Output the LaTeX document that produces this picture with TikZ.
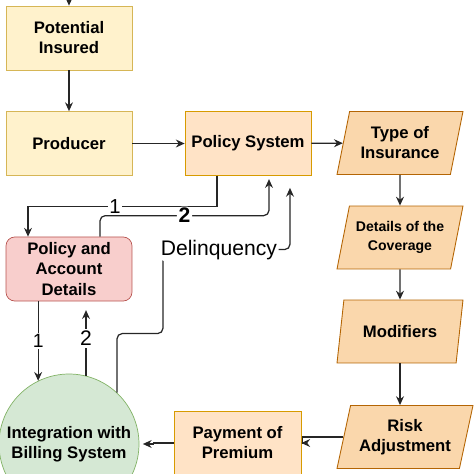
\documentclass[tikz,border=0pt]{standalone}
\usepackage{fontspec}
\setmainfont{Liberation Sans}
\usetikzlibrary{shapes.geometric,arrows.meta}

\definecolor{ylwfill}{HTML}{FFF2CC}
\definecolor{ylwline}{HTML}{D6B656}
\definecolor{orgfill}{HTML}{FFE3C6}
\definecolor{orgline}{HTML}{D79B00}
\definecolor{parafill}{HTML}{FAD7AC}
\definecolor{paraline}{HTML}{B46504}
\definecolor{redfill}{HTML}{F8CECC}
\definecolor{redline}{HTML}{B85450}
\definecolor{grnfill}{HTML}{D5E8D4}
\definecolor{grnline}{HTML}{82B366}

\begin{document}
\begin{tikzpicture}[x=0.02cm, y=-0.02cm,
    >={Stealth[length=5pt,width=4.5pt]},
    conn/.style={draw=black!85, line width=0.7pt, ->},
    boxtxt/.style={font=\fontsize{9.5}{11.4}\selectfont\bfseries, align=center},
    ybox/.style={boxtxt, draw=ylwline, fill=ylwfill, minimum width=2.52cm, minimum height=1.28cm},
    obox/.style={boxtxt, draw=orgline, fill=orgfill, minimum width=2.52cm, minimum height=1.27cm},
    para/.style={boxtxt, trapezium, trapezium left angle=74, trapezium right angle=106,
        trapezium stretches body, draw=paraline, fill=parafill, line width=0.5pt,
        minimum width=2.52cm, minimum height=1.26cm, inner xsep=0pt},
    lbl/.style={fill=white, inner sep=1pt}]
    \useasboundingbox (0,0) rectangle (474,474);

    % left column
    \node [ybox] (pot) at (69,38) {Potential\\Insured};
    \node [ybox] (prod) at (69,143.5) {Producer};
    \node [boxtxt, draw=redline, fill=redfill, rounded corners=5pt, minimum width=2.52cm, minimum height=1.24cm] (pad) at (69,269) {Policy and\\Account\\Details};
    \node [boxtxt, circle, draw=grnline, fill=grnfill, minimum size=2.8cm, inner sep=0pt] (integ) at (69,444) {Integration with\\Billing System};

    % middle
    \node [obox] (psys) at (248,143.5) {Policy System};
    \node [obox, minimum width=2.54cm] (pay) at (237.5,443) {Payment of\\Premium};

    % right column
    \node [para] (type) at (400,143) {Type of\\Insurance};
    \node [para, font=\fontsize{8}{10.5}\selectfont\bfseries] (cov) at (400,237.5) {Details of the\\Coverage};
    \node [para] (mod) at (400,331.5) {Modifiers};
    \node [para, minimum width=2.72cm] (risk) at (405,437) {Risk\\Adjustment};

    \coordinate (entry) at (69,-2);
    \draw [conn] (entry) -- (pot);
    \draw [conn] (pot) -- (prod);
    \draw [conn] (prod) -- (psys);
    \draw [conn] (psys) -- (type);
    \draw [conn] (type.south -| cov) -- (cov);
    \draw [conn] (cov.south -| mod) -- (mod);
    \draw [conn] (mod.south -| 400,0) -- (400,0 |- risk.north);
    \draw [conn] (risk.west) -- ++(-41,0) |- (pay.east);
    \draw [conn] (pay.west) -- ++(-20,0) |- ([xshift=2pt]integ.east);

    % loops round the policy system
    \draw [conn] ([xshift=-0.62cm]psys.south) -- ++(0,31) -| ([xshift=-0.82cm]pad.north)
        node [lbl, pos=0.27, font=\fontsize{11.5}{13}\selectfont] {1};
    \draw [conn, rounded corners=3pt, shorten >=2pt] ([xshift=0.62cm]pad.north) -- ++(0,-21) -| ([xshift=0.42cm]psys.south)
        node [lbl, pos=0.25, font=\fontsize{12}{14}\selectfont\bfseries] {2};
    \draw [conn, rounded corners=3pt, shorten >=7pt] (integ.47) -- ++(0,-59) -- ++(46,0) -- ++(0,-84) -| ([xshift=0.84cm]psys.south)
        node [lbl, pos=0.22, font=\fontsize{12}{14}\selectfont] {Delinquency};

    % between details and billing
    \draw [conn] (pad.south -| integ.116) -- (integ.116)
        node [lbl, pos=0.5, font=\fontsize{11}{13}\selectfont] {1};
    \draw [conn, shorten >=5pt] (integ.76) -- (integ.76 |- pad.south)
        node [lbl, pos=0.5, font=\fontsize{12}{14}\selectfont] {2};
\end{tikzpicture}
\end{document}
